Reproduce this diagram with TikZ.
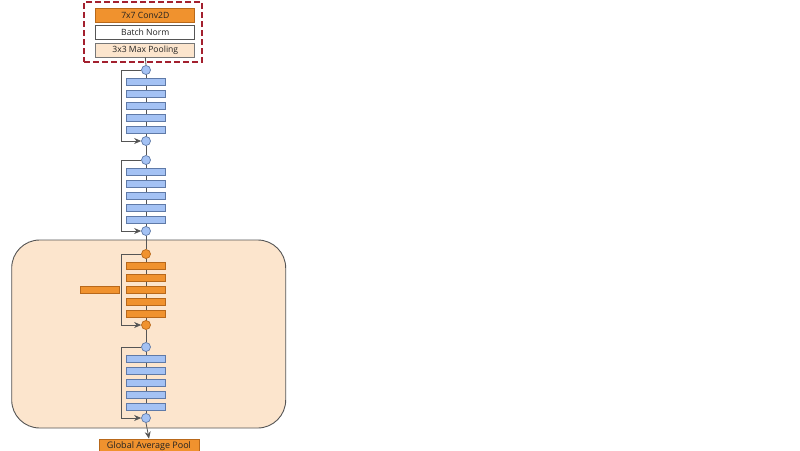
\documentclass[tikz,border=0pt]{standalone}
\usepackage{fontspec}
\setmainfont{Open Sans}
\usetikzlibrary{arrows.meta}
\definecolor{cblue}{HTML}{A4C2F4}
\definecolor{cblueb}{HTML}{5F7AA8}
\definecolor{corange}{HTML}{F0922E}
\definecolor{corangeb}{HTML}{B8681A}
\definecolor{clight}{HTML}{FCE5CD}
\definecolor{cline}{HTML}{555555}
\definecolor{cred}{HTML}{A3202E}
\definecolor{ctext}{HTML}{222222}
\tikzset{
  bluebar/.style={draw=cblueb, fill=cblue, line width=0.7pt, minimum width=39pt, minimum height=7.6pt, inner sep=0pt},
  orangebar/.style={draw=corangeb, fill=corange, line width=0.7pt, minimum width=39pt, minimum height=7.6pt, inner sep=0pt},
  bluedot/.style={circle, draw=cblueb, fill=cblue, line width=0.7pt, minimum size=9pt, inner sep=0pt},
  orangedot/.style={circle, draw=corangeb, fill=corange, line width=0.7pt, minimum size=9pt, inner sep=0pt},
  conn/.style={draw=cline, line width=0.8pt},
  skip/.style={draw=cline, line width=0.8pt, -{Stealth[length=7pt,width=6pt]}},
  layerbox/.style={line width=0.7pt, minimum width=99pt, minimum height=14pt, inner sep=0pt, font=\fontsize{8.6}{9}\selectfont, text=ctext},
}
\begin{document}
\begin{tikzpicture}[x=1pt,y=-1pt]
\useasboundingbox (0,0) rectangle (800,450);
\clip (0,0) rectangle (800,450);
\fill[white] (0,0) rectangle (800,450);

% stage region
\node[draw=cline, fill=clight, line width=0.9pt, rounded corners=28pt, minimum width=274pt, minimum height=188pt, inner sep=0pt] (stage) at (148.7,334) {};

% stem
\node[draw=cred, dashed, dash pattern=on 6pt off 3pt, line width=1.4pt, minimum width=118pt, minimum height=60pt, inner sep=0pt] (stem) at (143,32) {};
\node[layerbox, draw=corangeb, fill=corange] (conv) at (145.3,15) {7x7 Conv2D};
\node[layerbox, draw=cline, fill=white] (bn) at (145.3,32.5) {Batch Norm};
\node[layerbox, draw=cline!80, fill=clight] (pool) at (145.3,50) {3x3 Max Pooling};

% blocks: name / top circle y / colour kind
\foreach \name/\ty/\kind in {b1/70/blue, b2/160/blue, b3/254/orange, b4/347/blue} {
  \draw[conn] (146,\ty) -- (146,\ty+71);
  \foreach \k in {1,...,5} {
    \node[\kind bar] (\name bar\k) at (146,\ty+12*\k) {};
  }
  \node[\kind dot] (\name in) at (146,\ty) {};
  \node[\kind dot] (\name out) at (146,\ty+71) {};
  \draw[skip] (\name in.west) -- (121,\ty) -- (121,\ty+71) -- (\name out.west);
}

% side branch
\node[orangebar] (side) at (99.5,290) {};

% spine connectors
\draw[conn] (pool.south) -- (b1in.north);
\draw[conn] (b1out.south) -- (b2in.north);
\draw[conn] (b2out.south) -- (b3in.north);
\draw[conn] (b3out.south) -- (b4in.north);

% head
\node[layerbox, draw=corangeb, fill=corange, minimum width=100pt, font=\fontsize{9}{9}\selectfont] (gap) at (149,446) {Global Average Pool};
\draw[skip] (b4out.south) -- (gap.north);
\end{tikzpicture}
\end{document}
